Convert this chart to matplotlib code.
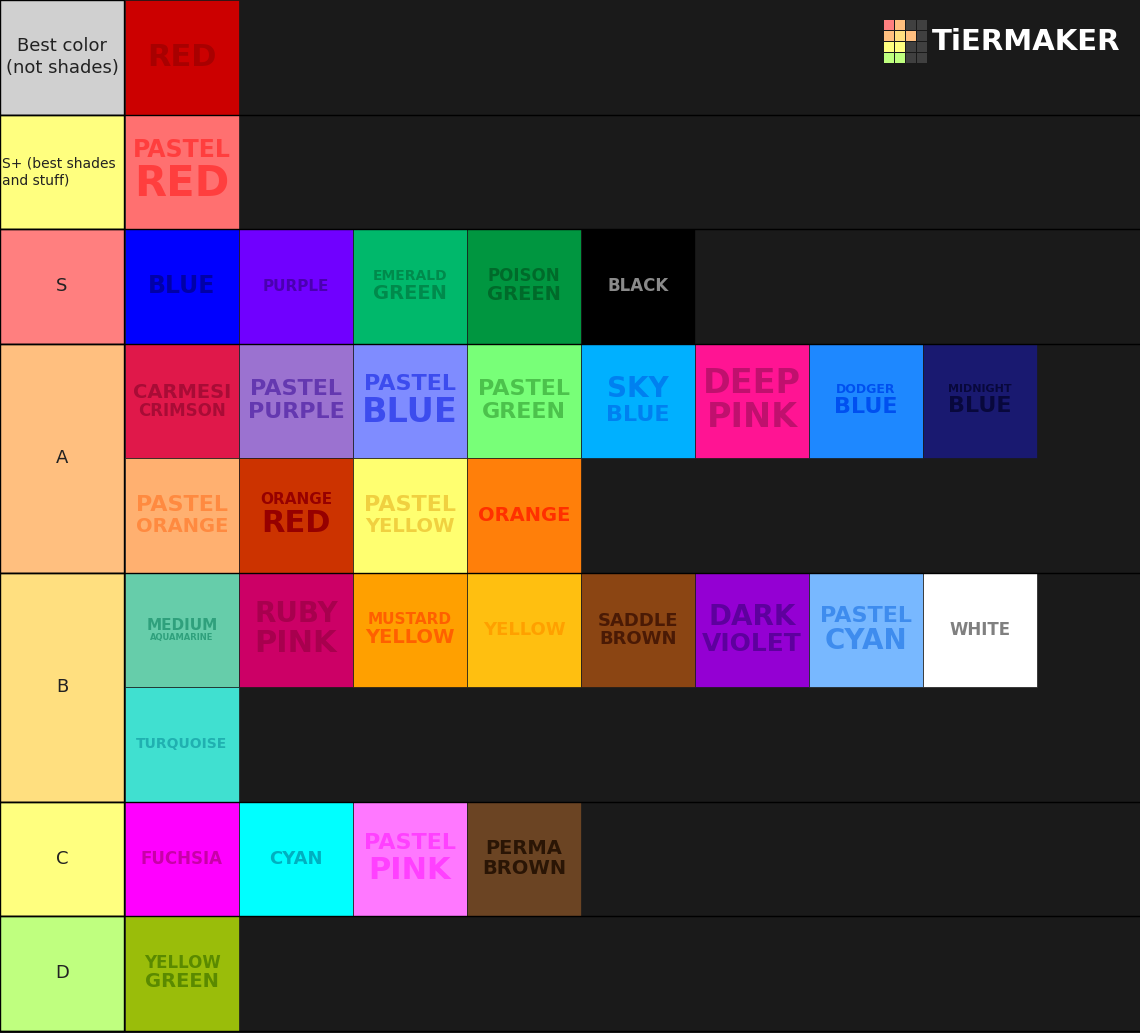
import matplotlib
matplotlib.use("Agg")
import matplotlib.pyplot as plt
from matplotlib.patches import Rectangle

# ---- data ----
tier_labels = ["Best color\n(not shades)", "S+ (best shades\nand stuff)", "S", "A", "B", "C", "D"]
tier_colors = ["#d0d0d0", "#ffff7f", "#ff7f7f", "#ffbf7f", "#ffdf7f", "#ffff7f", "#bfff7f"]
tier_rows = [1, 1, 1, 2, 2, 1, 1]
tier_items = [
    [("RED", "#cc0000", "#a80000", [22])],
    [("PASTEL\nRED", "#ff7070", "#ff3e3e", [17, 30])],
    [("BLUE", "#0000ff", "#0000a8", [17]), ("PURPLE", "#7000ff", "#4a00b0", [11]),
     ("EMERALD\nGREEN", "#00b86b", "#008a4c", [10, 14]), ("POISON\nGREEN", "#009640", "#006a2a", [12, 14]),
     ("BLACK", "#000000", "#8a8a8a", [12])],
    [("CARMESI\nCRIMSON", "#e0184a", "#a80c36", [14, 12]), ("PASTEL\nPURPLE", "#9b72d0", "#6438b0", [16, 16]),
     ("PASTEL\nBLUE", "#7f8cff", "#3c4cee", [16, 24]), ("PASTEL\nGREEN", "#78ff78", "#4cc24c", [16, 16]),
     ("SKY\nBLUE", "#00b0ff", "#0080f0", [20, 16]), ("DEEP\nPINK", "#ff1493", "#c0106e", [24, 24]),
     ("DODGER\nBLUE", "#1e88ff", "#0050f0", [9, 16]), ("MIDNIGHT\nBLUE", "#191970", "#08083c", [8, 16]),
     ("PASTEL\nORANGE", "#ffb070", "#ff8a40", [16, 14]), ("ORANGE\nRED", "#cc3300", "#960000", [11, 22]),
     ("PASTEL\nYELLOW", "#ffff70", "#f0d040", [16, 14]), ("ORANGE", "#ff7f0a", "#ff3000", [14])],
    [("MEDIUM\nAQUAMARINE", "#66cdaa", "#2fa07c", [11, 6]), ("RUBY\nPINK", "#cc0066", "#a8004e", [20, 22]),
     ("MUSTARD\nYELLOW", "#ffa000", "#ff6000", [11, 14]), ("YELLOW", "#ffbf10", "#ffa000", [13]),
     ("SADDLE\nBROWN", "#8b4513", "#4a1a05", [13, 13]), ("DARK\nVIOLET", "#9400d3", "#5e009e", [20, 18]),
     ("PASTEL\nCYAN", "#78b8ff", "#3e8cee", [16, 20]), ("WHITE", "#ffffff", "#808080", [12]),
     ("TURQUOISE", "#40e0d0", "#20b0b0", [10])],
    [("FUCHSIA", "#ff00ff", "#c800a8", [12]), ("CYAN", "#00ffff", "#00b0c0", [13]),
     ("PASTEL\nPINK", "#ff78ff", "#ff40ff", [16, 22]), ("PERMA\nBROWN", "#6b4423", "#2a1505", [14, 14])],
    [("YELLOW\nGREEN", "#9abd0a", "#5a8a00", [12, 14])],
]
logo_colors = ["#ff7f7f", "#ffbf7f", "#404040", "#404040",
               "#ffbf7f", "#ffdf7f", "#ffbf7f", "#404040",
               "#ffff7f", "#ffff7f", "#404040", "#404040",
               "#bfff7f", "#bfff7f", "#404040", "#404040"]

W, H = 1140, 1033
fig = plt.figure(figsize=(W / 100, H / 100), dpi=100)
ax = fig.add_axes([0, 0, 1, 1])
ax.set_xlim(0, W)
ax.set_ylim(H, 0)
ax.axis("off")
ax.add_patch(Rectangle((0, 0), W, H, color="#1a1a1a"))

LW, TW, RH = 124, 114, 114.5
y = 0
for ti, lab in enumerate(tier_labels):
    h = RH * tier_rows[ti]
    ax.add_patch(Rectangle((0, y), LW, h, facecolor=tier_colors[ti], edgecolor="black", lw=1))
    if ti == 1:
        ax.text(2, y + h / 2, lab, ha="left", va="center", fontsize=10, color="#222", linespacing=1.3)
    else:
        ax.text(LW / 2, y + h / 2, lab, ha="center", va="center", fontsize=13, color="#222", linespacing=1.3)
    ax.plot([0, W], [y + h, y + h], color="black", lw=1)
    for k, (name, bg, fg, sizes) in enumerate(tier_items[ti]):
        r, c = divmod(k, 8)
        x0, y0 = LW + 1 + c * TW, y + r * RH
        ax.add_patch(Rectangle((x0, y0), TW, RH, facecolor=bg, edgecolor="#1a1a1a", lw=0.5))
        lines = name.split("\n")
        heights = [s * 1.05 for s in sizes]
        tot = sum(heights)
        cy = y0 + RH / 2 - tot / 2 * 1.35
        for ln, s, hh in zip(lines, sizes, heights):
            ax.text(x0 + TW / 2, cy + hh * 1.35 / 2, ln, ha="center", va="center",
                    fontsize=s, fontweight="bold", color=fg)
            cy += hh * 1.35
    y += h

# logo
for i, col in enumerate(logo_colors):
    r, c = divmod(i, 4)
    ax.add_patch(Rectangle((884 + c * 11, 20 + r * 11), 9.5, 9.5, facecolor=col))
ax.text(932, 42, "TiERMAKER", ha="left", va="center", fontsize=21, fontweight="bold",
        color="white", family="DejaVu Sans")

fig.savefig("out.png", dpi=100)
